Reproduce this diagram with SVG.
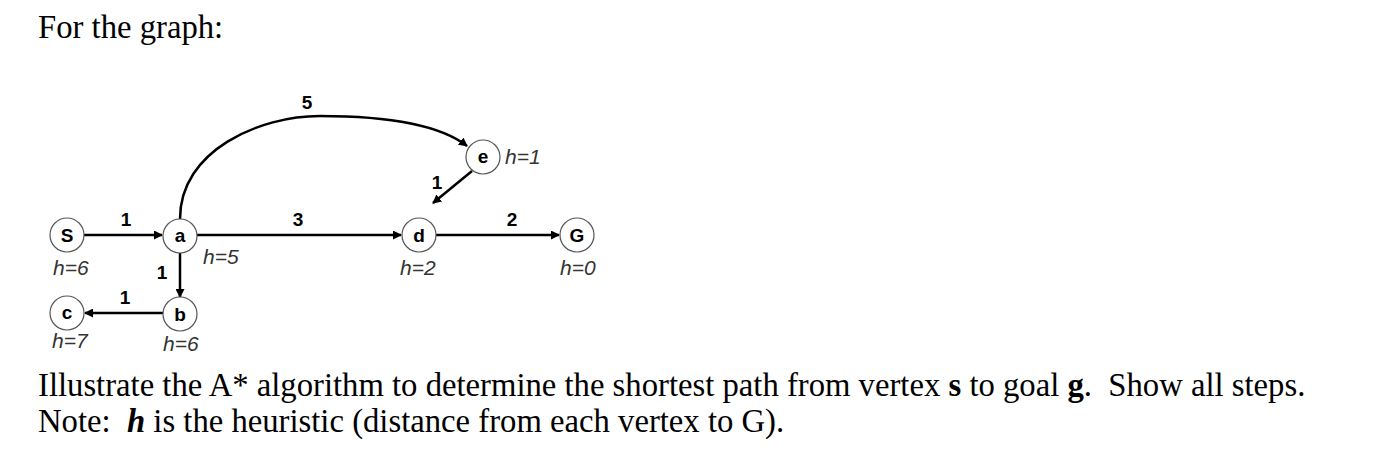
<svg xmlns="http://www.w3.org/2000/svg" width="1388" height="476" viewBox="0 0 1388 476">
<style>
.n circle{fill:#fff;stroke:#555;stroke-width:1.2}
.n text,.w{font-family:"Liberation Sans",Arial,sans-serif;font-weight:bold;font-size:19px;text-anchor:middle}
.h{font-family:"Liberation Sans",Arial,sans-serif;font-style:italic;font-size:21px;fill:#333}
.e{stroke:#000;stroke-width:2.5;fill:none;marker-end:url(#ar)}
.t{font-family:"Liberation Serif","Times New Roman",serif;font-size:32.7px}
</style>
<defs><marker id="ar" markerWidth="9" markerHeight="9" refX="8" refY="4.5" orient="auto" markerUnits="userSpaceOnUse"><path d="M0,0 L9,4.5 L0,9 z"/></marker></defs>
<rect width="1388" height="476" fill="#fff"/>
<text class="t" x="38" y="38">For the graph:</text>
<g id="edges">
<path class="e" d="M84,235 H162"/>
<path class="e" d="M197,235 H401"/>
<path class="e" d="M436,235 H559"/>
<path class="e" d="M180,253 V297"/>
<path class="e" d="M163,313 H85"/>
<path class="e" d="M472,171 L433,203"/>
<path class="e" d="M180,219 C180,150 260,116 320,116 C390,116 440,125 467,146"/>
<text class="w" x="126" y="226">1</text>
<text class="w" x="298" y="226">3</text>
<text class="w" x="512" y="226">2</text>
<text class="w" x="437" y="189">1</text>
<text class="w" x="307" y="109">5</text>
<text class="w" x="162" y="279">1</text>
<text class="w" x="125" y="304">1</text>
</g>
<g id="S" class="n"><circle cx="67" cy="235" r="17"/><text x="67" y="242">S</text></g>
<g id="a" class="n"><circle cx="180" cy="236" r="17"/><text x="180" y="242">a</text></g>
<g id="d" class="n"><circle cx="419" cy="235" r="17"/><text x="419" y="242">d</text></g>
<g id="G" class="n"><circle cx="577" cy="235" r="17"/><text x="577" y="242">G</text></g>
<g id="e" class="n"><circle cx="483" cy="157" r="17"/><text x="483" y="163">e</text></g>
<g id="c" class="n"><circle cx="67" cy="313" r="17"/><text x="67" y="319">c</text></g>
<g id="b" class="n"><circle cx="180" cy="314" r="17"/><text x="180" y="321">b</text></g>
<text class="h" x="53" y="275">h=6</text>
<text class="h" x="203" y="264">h=5</text>
<text class="h" x="400" y="275">h=2</text>
<text class="h" x="560" y="275">h=0</text>
<text class="h" x="505" y="164">h=1</text>
<text class="h" x="52" y="348">h=7</text>
<text class="h" x="163" y="351">h=6</text>
<text class="t" x="38" y="396" xml:space="preserve">Illustrate the A* algorithm to determine the shortest path from vertex <tspan font-weight="bold">s</tspan> to goal <tspan font-weight="bold">g</tspan>.  Show all steps.</text>
<text class="t" x="38" y="432" xml:space="preserve">Note:  <tspan font-style="italic" font-weight="bold">h</tspan> is the heuristic (distance from each vertex to G).</text>
</svg>
